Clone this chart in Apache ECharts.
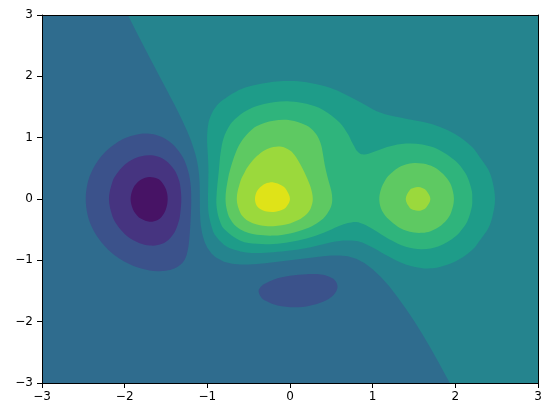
<!DOCTYPE html>
<html><head><meta charset="utf-8">
<script src="https://cdn.jsdelivr.net/npm/echarts@6/dist/echarts.min.js"></script>
<style>html,body{margin:0;padding:0;background:#fff}#chart{width:560px;height:410px}</style>
</head><body><div id="chart"></div>
<script>
// tick values and labels
const xTicks = [-3, -2, -1, 0, 1, 2, 3];
const yTicks = [-3, -2, -1, 0, 1, 2, 3];
const tickLabels = ['\u22123', '\u22122', '\u22121', '0', '1', '2', '3'];
// contour levels and band colours (viridis at band midpoints)
const levels = [-0.8, -0.6, -0.4, -0.2, 0, 0.2, 0.4, 0.6, 0.8, 1.0, 1.2];
const bandColors = ['#471365', '#463480', '#3b528b', '#2f6c8e', '#25848e', '#1e9c89', '#2fb47c', '#5ec962', '#9bd93c', '#dfe318'];

// region outlines (data coordinates)
const plotRect = [[-3,-3],[3,-3],[3,3],[-3,3]];
const belowZero = [[-3,3],[-1.961,3],[-1.9,2.836],[-1.85,2.703],[-1.8,2.571],[-1.75,2.441],[-1.7,2.311],[-1.65,2.183],[-1.6,2.055],[-1.55,1.928],[-1.5,1.801],[-1.45,1.673],[-1.4,1.544],[-1.35,1.411],[-1.3,1.273],[-1.25,1.126],[-1.2,0.961],[-1.15,0.758],[-1.13,0.652],[-1.12,0.587],[-1.11,0.507],[-1.1,0.393],[-1.095,0.30],[-1.092,0.19],[-1.0915,0.152],[-1.091,0.06],[-1.09,-0.186],[-1.085,-0.339],[-1.08,-0.414],[-1.065,-0.546],[-1.05,-0.629],[-1.03,-0.709],[-1.0,-0.794],[-0.95,-0.888],[-0.9,-0.951],[-0.8,-1.024],[-0.7,-1.057],[-0.6,-1.069],[-0.5,-1.068],[-0.4,-1.06],[-0.3,-1.047],[-0.2,-1.032],[-0.1,-1.016],[0,-1],[0.1,-0.983],[0.2,-0.966],[0.3,-0.948],[0.4,-0.932],[0.5,-0.921],[0.6,-0.92],[0.7,-0.935],[0.8,-0.975],[0.9,-1.045],[1.0,-1.145],[1.1,-1.272],[1.2,-1.424],[1.3,-1.596],[1.4,-1.784],[1.5,-1.987],[1.6,-2.201],[1.7,-2.43],[1.8,-2.668],[1.9,-2.917],[1.932,-3],[-3,-3]];
const ringM02 = [[-2.471,0],[-2.45,0.248],[-2.4,0.445],[-2.3,0.667],[-2.2,0.812],[-2.1,0.915],[-2.0,0.991],[-1.9,1.037],[-1.8,1.065],[-1.7,1.063],[-1.6,1.037],[-1.5,0.976],[-1.4,0.869],[-1.3,0.688],[-1.25,0.536],[-1.22,0.39],[-1.2,0.203],[-1.195,-0.03],[-1.2,-0.27],[-1.22,-0.68],[-1.25,-0.907],[-1.3,-1.038],[-1.4,-1.134],[-1.5,-1.169],[-1.6,-1.176],[-1.7,-1.164],[-1.8,-1.134],[-1.9,-1.087],[-2.0,-1.023],[-2.1,-0.937],[-2.2,-0.826],[-2.3,-0.674],[-2.4,-0.447],[-2.45,-0.249]];
const blobM02 = [[-0.38,-1.5],[-0.35,-1.425],[-0.3,-1.376],[-0.2,-1.317],[-0.1,-1.277],[0,-1.25],[0.1,-1.235],[0.2,-1.225],[0.3,-1.223],[0.4,-1.237],[0.5,-1.284],[0.55,-1.335],[0.575,-1.43],[0.55,-1.525],[0.5,-1.597],[0.4,-1.676],[0.3,-1.722],[0.2,-1.751],[0.1,-1.764],[0,-1.763],[-0.1,-1.749],[-0.2,-1.715],[-0.3,-1.655],[-0.35,-1.60]];
const ringM04 = [[-2.19,0],[-2.15,0.272],[-2.1,0.403],[-2.0,0.558],[-1.9,0.649],[-1.8,0.699],[-1.7,0.714],[-1.6,0.694],[-1.5,0.624],[-1.4,0.475],[-1.35,0.335],[-1.33,0.237],[-1.315,0],[-1.33,-0.263],[-1.35,-0.385],[-1.4,-0.55],[-1.5,-0.699],[-1.6,-0.752],[-1.7,-0.758],[-1.8,-0.729],[-1.9,-0.668],[-2.0,-0.569],[-2.1,-0.408],[-2.15,-0.274]];
const coreM06 = [[-1.928,0],[-1.9,0.166],[-1.85,0.265],[-1.8,0.318],[-1.7,0.359],[-1.6,0.329],[-1.55,0.275],[-1.5,0.159],[-1.48,0],[-1.5,-0.164],[-1.55,-0.286],[-1.6,-0.343],[-1.7,-0.372],[-1.8,-0.324],[-1.85,-0.268],[-1.9,-0.167]];
const aboveP02 = [[-0.992,0],[-0.989,0.25],[-0.987,0.5],[-0.995,0.75],[-1.003,1.0],[-0.985,1.25],[-0.945,1.4],[-0.9,1.497],[-0.826,1.6],[-0.655,1.75],[-0.5,1.833],[-0.2,1.913],[0,1.925],[0.2,1.903],[0.5,1.804],[0.8,1.614],[1.0,1.465],[1.1,1.406],[1.2,1.365],[1.4,1.31],[1.6,1.26],[1.8,1.183],[2.0,1.055],[2.2,0.85],[2.3,0.674],[2.4,0.475],[2.45,0.28],[2.48,0],[2.45,-0.28],[2.4,-0.472],[2.3,-0.667],[2.2,-0.836],[2.0,-1.02],[1.8,-1.113],[1.7,-1.13],[1.6,-1.13],[1.4,-1.069],[1.2,-0.943],[1.0,-0.792],[0.9,-0.724],[0.8,-0.685],[0.6,-0.684],[0.4,-0.737],[0.2,-0.799],[0,-0.841],[-0.2,-0.867],[-0.4,-0.88],[-0.5,-0.876],[-0.6,-0.855],[-0.7,-0.817],[-0.8,-0.745],[-0.9,-0.6],[-0.937,-0.5],[-0.983,-0.25]];
const aboveP04 = [[-0.891,0],[-0.858,0.5],[-0.84,0.75],[-0.802,1.0],[-0.731,1.2],[-0.667,1.3],[-0.579,1.4],[-0.5,1.46],[-0.4,1.516],[-0.2,1.577],[0,1.591],[0.2,1.553],[0.4,1.453],[0.6,1.249],[0.7,1.06],[0.75,0.925],[0.78,0.85],[0.8,0.80],[0.85,0.738],[0.9,0.726],[0.95,0.738],[1.0,0.761],[1.1,0.813],[1.2,0.857],[1.4,0.903],[1.6,0.888],[1.8,0.805],[2.0,0.624],[2.1,0.466],[2.15,0.347],[2.2,0.127],[2.205,0],[2.2,-0.127],[2.15,-0.35],[2.1,-0.46],[2.0,-0.612],[1.8,-0.772],[1.6,-0.82],[1.4,-0.78],[1.2,-0.658],[1.1,-0.576],[1.0,-0.49],[0.9,-0.415],[0.8,-0.374],[0.7,-0.393],[0.6,-0.437],[0.4,-0.556],[0.2,-0.645],[0,-0.70],[-0.2,-0.735],[-0.4,-0.731],[-0.6,-0.679],[-0.8,-0.484],[-0.85,-0.354],[-0.88,-0.2]];
const centerP06 = [[-0.78,0],[-0.75,0.33],[-0.7,0.59],[-0.65,0.78],[-0.6,0.915],[-0.5,1.083],[-0.4,1.191],[-0.2,1.275],[0,1.283],[0.2,1.197],[0.3,1.085],[0.35,0.978],[0.38,0.865],[0.4,0.72],[0.42,0.56],[0.45,0.38],[0.5,0.13],[0.511,0],[0.5,-0.11],[0.45,-0.241],[0.4,-0.32],[0.3,-0.415],[0.2,-0.482],[0,-0.562],[-0.2,-0.597],[-0.4,-0.584],[-0.5,-0.555],[-0.6,-0.496],[-0.65,-0.448],[-0.7,-0.373],[-0.75,-0.25]];
const rightP06 = [[1.08,0],[1.1,0.155],[1.15,0.30],[1.2,0.39],[1.3,0.502],[1.4,0.564],[1.5,0.588],[1.6,0.58],[1.7,0.545],[1.8,0.469],[1.9,0.336],[1.95,0.22],[1.983,0],[1.95,-0.218],[1.9,-0.333],[1.8,-0.458],[1.7,-0.524],[1.6,-0.551],[1.5,-0.547],[1.4,-0.513],[1.3,-0.448],[1.2,-0.34],[1.15,-0.267],[1.1,-0.15]];
const centerP08 = [[-0.644,0],[-0.6,0.29],[-0.55,0.434],[-0.5,0.545],[-0.4,0.70],[-0.3,0.80],[-0.2,0.848],[-0.1,0.85],[0,0.79],[0.05,0.724],[0.1,0.625],[0.15,0.5],[0.2,0.36],[0.25,0.19],[0.276,0],[0.25,-0.153],[0.2,-0.247],[0.15,-0.302],[0.1,-0.344],[0,-0.398],[-0.1,-0.429],[-0.2,-0.443],[-0.3,-0.44],[-0.4,-0.417],[-0.5,-0.362],[-0.55,-0.313],[-0.6,-0.23]];
const rightP08 = [[1.40,0],[1.45,0.148],[1.5,0.182],[1.55,0.197],[1.6,0.179],[1.65,0.135],[1.698,0],[1.65,-0.133],[1.6,-0.178],[1.55,-0.193],[1.5,-0.18],[1.45,-0.145]];
const centerP10 = [[-0.424,0],[-0.4,0.125],[-0.35,0.202],[-0.3,0.248],[-0.2,0.27],[-0.1,0.22],[-0.05,0.163],[0,0],[-0.05,-0.14],[-0.1,-0.18],[-0.2,-0.213],[-0.3,-0.2],[-0.35,-0.173],[-0.4,-0.115]];

// drawing order (painter's algorithm): band index, outline, smoothed?
const layers = [
  {band: 4, pts: plotRect, smooth: false},
  {band: 3, pts: belowZero, smooth: false},
  {band: 2, pts: ringM02, smooth: true},
  {band: 2, pts: blobM02, smooth: true},
  {band: 1, pts: ringM04, smooth: true},
  {band: 0, pts: coreM06, smooth: true},
  {band: 5, pts: aboveP02, smooth: true},
  {band: 6, pts: aboveP04, smooth: true},
  {band: 7, pts: centerP06, smooth: true},
  {band: 7, pts: rightP06, smooth: true},
  {band: 8, pts: centerP08, smooth: true},
  {band: 8, pts: rightP08, smooth: true},
  {band: 9, pts: centerP10, smooth: true}
];

function fmt(v) { const i = xTicks.indexOf(Math.round(v)); return i >= 0 ? tickLabels[i] : String(v); }
function fmtY(v) { const i = yTicks.indexOf(Math.round(v)); return i >= 0 ? tickLabels[i] : String(v); }

const chart = echarts.init(document.getElementById('chart'), null, {renderer: 'canvas'});
const labelStyle = {color: '#000', fontSize: 12, fontFamily: 'DejaVu Sans'};
const option = {
  animation: false,
  backgroundColor: '#fff',
  grid: {left: 42, right: 22, top: 15, bottom: 27, show: false},
  xAxis: [
    {type: 'value', min: -3, max: 3, interval: 1, position: 'bottom', z: 10,
     axisLine: {show: true, onZero: false, lineStyle: {color: '#000', width: 1}},
     axisTick: {show: true, inside: false, length: 5, lineStyle: {color: '#000', width: 1}},
     axisLabel: Object.assign({show: true, margin: 8, formatter: fmt}, labelStyle),
     splitLine: {show: false}},
    {type: 'value', min: -3, max: 3, interval: 1, position: 'top', z: 10,
     axisLine: {show: true, onZero: false, lineStyle: {color: '#000', width: 1}},
     axisTick: {show: false}, axisLabel: {show: false}, splitLine: {show: false}}
  ],
  yAxis: [
    {type: 'value', min: -3, max: 3, interval: 1, position: 'left', z: 10,
     axisLine: {show: true, onZero: false, lineStyle: {color: '#000', width: 1}},
     axisTick: {show: true, inside: false, length: 5, lineStyle: {color: '#000', width: 1}},
     axisLabel: Object.assign({show: true, margin: 9, formatter: fmtY}, labelStyle),
     splitLine: {show: false}},
    {type: 'value', min: -3, max: 3, interval: 1, position: 'right', z: 10,
     axisLine: {show: true, onZero: false, lineStyle: {color: '#000', width: 1}},
     axisTick: {show: false}, axisLabel: {show: false}, splitLine: {show: false}}
  ],
  series: [{
    type: 'custom',
    xAxisIndex: 0, yAxisIndex: 0,
    silent: true,
    clip: true,
    z: 2,
    data: layers.map(l => [l.pts[0][0], l.pts[0][1]]),
    renderItem: function (params, api) {
      const L = layers[params.dataIndex];
      const points = L.pts.map(p => api.coord(p));
      return {
        type: 'polygon',
        shape: {points: points, smooth: L.smooth ? 0.35 : 0},
        style: {fill: bandColors[L.band], stroke: null}
      };
    }
  }]
};
chart.setOption(option);
</script>
</body></html>
